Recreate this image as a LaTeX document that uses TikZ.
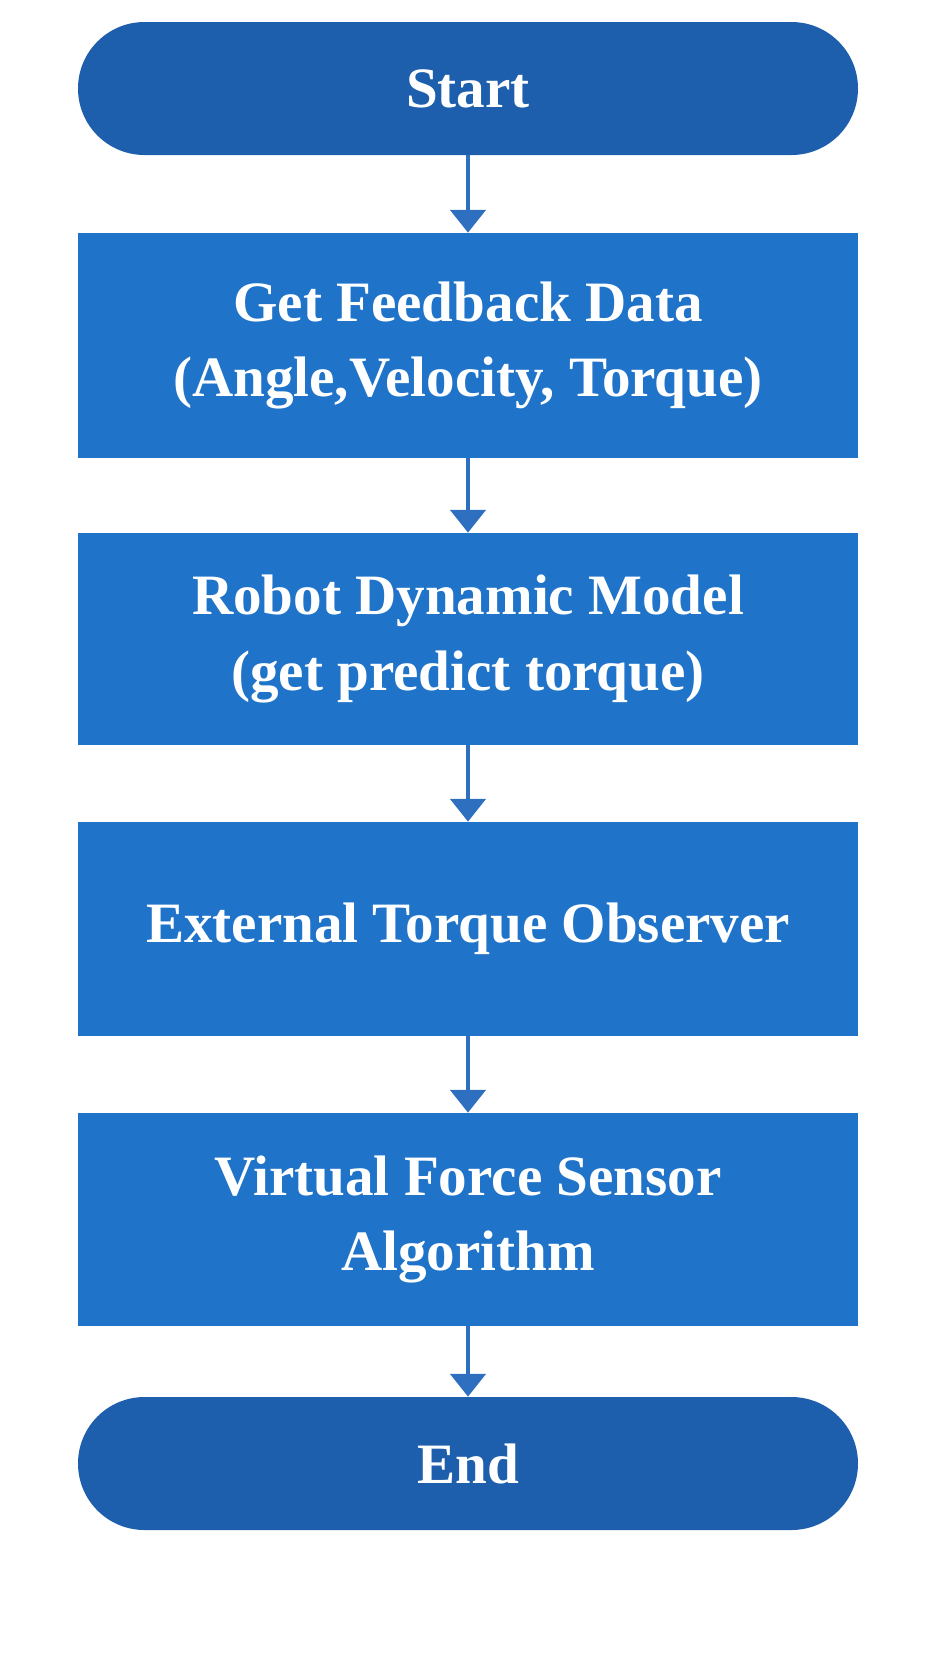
\documentclass[tikz,border=0pt]{standalone}
\usepackage{fontspec}
\setmainfont{Liberation Serif}
\usetikzlibrary{arrows.meta}
\definecolor{pillc}{HTML}{1E5FAD}
\definecolor{boxc}{HTML}{1F73C9}
\definecolor{arrc}{HTML}{2E6FC0}
\tikzset{
 pill/.style={draw=none,fill=pillc,rounded corners=66.5*0.02cm,minimum width=780*0.02cm,minimum height=133*0.02cm,inner sep=0pt},
 stepbox/.style={draw=none,fill=boxc,minimum width=780*0.02cm,inner sep=0pt,align=center},
 lbl/.style={text=white,font=\fontsize{32.5}{43}\selectfont\bfseries,align=center},
 conn/.style={draw=arrc,line width=2.5pt,-{Triangle[length=13pt,width=20pt]}}
}
\begin{document}
\begin{tikzpicture}[x=0.02cm,y=-0.02cm]
\useasboundingbox (0,0) rectangle (947,1658);
\node[pill] (s) at (468,88.5) {};
\node[lbl] at (s) {Start};
\node[stepbox,minimum height=225*0.02cm] (b1) at (468,345.5) {};
\node[lbl] at (b1) {Get Feedback Data\\(Angle,Velocity, Torque)};
\node[stepbox,minimum height=212*0.02cm] (b2) at (468,639) {};
\node[lbl] at (b2) {Robot Dynamic Model\\(get predict torque)};
\node[stepbox,minimum height=214*0.02cm] (b3) at (468,929) {};
\node[lbl] at (b3) {External Torque Observer};
\node[stepbox,minimum height=213*0.02cm] (b4) at (468,1219.5) {};
\node[lbl] at (b4) {Virtual Force Sensor\\Algorithm};
\node[pill] (e) at (468,1463.5) {};
\node[lbl] at (e) {End};
\draw[conn] (s.south) -- (b1.north);
\draw[conn] (b1.south) -- (b2.north);
\draw[conn] (b2.south) -- (b3.north);
\draw[conn] (b3.south) -- (b4.north);
\draw[conn] (b4.south) -- (e.north);
\end{tikzpicture}
\end{document}
